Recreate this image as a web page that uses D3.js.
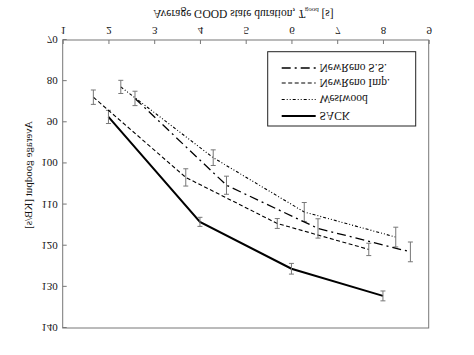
<!DOCTYPE html>
<meta charset="utf-8">
<style>
  body { margin: 0; background: #fff; }
  svg { display: block; transform: scaleY(-1); }
  text { font-family: "Liberation Serif", "DejaVu Serif", serif; fill: #111; }
</style>
<script src="https://d3js.org/d3.v7.min.js"></script>
<div id="chart"></div>
<script>
  // values (x = average GOOD duration, y = goodput)
  var sackX = [2, 4, 6, 8];
  var sackY = [88.7, 114.2, 125.6, 132.2];
  var sackErr = [1.6, 1.1, 1.3, 1.2];

  var nriX = [1.67, 3.69, 5.69, 7.69];
  var nriY = [83.9, 103.4, 114.6, 120.9];
  var nriErr = [1.75, 2.1, 1.2, 1.5];

  var wwX = [2.27, 4.29, 6.28, 8.28];
  var wwY = [81.4, 98.6, 111.8, 117.9];
  var wwErr = [1.6, 1.9, 2.3, 2.4];

  var nrssX = [2.58, 4.58, 6.58, 8.6];
  var nrssY = [84.2, 105.3, 115.8, 121.5];
  var nrssErr = [1.75, 2.2, 2.35, 2.4];

  var xTicks = [1, 2, 3, 4, 5, 6, 7, 8, 9];
  var yTicks = [70, 80, 90, 100, 110, 120, 130, 140];

  var width = 474, height = 355;
  var margin = {top: 27, right: 45.3, bottom: 40, left: 62.7};

  var svg = d3.select("#chart").append("svg")
    .attr("width", width)
    .attr("height", height);

  var x = d3.scaleLinear().domain([1, 9]).range([margin.left, width - margin.right]);
  var y = d3.scaleLinear().domain([70, 140]).range([height - margin.bottom, margin.top]);

  // frame
  svg.append("rect")
    .attr("x", x(1)).attr("y", y(140))
    .attr("width", x(9) - x(1)).attr("height", y(70) - y(140))
    .attr("fill", "none").attr("stroke", "#777").attr("stroke-width", 1);

  var xAxis = svg.append("g")
    .attr("transform", "translate(0," + y(70) + ")")
    .call(d3.axisBottom(x).tickValues(xTicks).tickFormat(d3.format("d"))
      .tickSizeInner(-4).tickSizeOuter(0).tickPadding(5));
  var yAxis = svg.append("g")
    .attr("transform", "translate(" + x(1) + ",0)")
    .call(d3.axisLeft(y).tickValues(yTicks).tickFormat(d3.format("d"))
      .tickSizeInner(-4).tickSizeOuter(0).tickPadding(5));
  [xAxis, yAxis].forEach(function(a) {
    a.select(".domain").remove();
    a.selectAll("line").attr("stroke", "#777");
    a.selectAll("text").style("font-size", "11px").style("font-family", "Liberation Serif").attr("fill", "#111");
  });

  // axis titles
  var xt = svg.append("text")
    .attr("x", 243.4).attr("y", 345)
    .attr("text-anchor", "middle")
    .style("font-size", "11.5px");
  xt.append("tspan").text("Average GOOD state duration, ");
  xt.append("tspan").style("font-style", "italic").text("T");
  xt.append("tspan").attr("dy", 2.5).style("font-size", "7px").text("good");
  xt.append("tspan").attr("dy", -2.5).text(" [s]");

  svg.append("text")
    .attr("transform", "translate(32,180) rotate(-90)")
    .attr("text-anchor", "middle")
    .style("font-size", "11px")
    .text("Average goodput [KB/s]");

  var series = [
    {name: "SACK", xs: sackX, ys: sackY, err: sackErr, dash: null, w: 2},
    {name: "Westwood", xs: wwX, ys: wwY, err: wwErr, dash: "3,2,1,2,1,2", w: 1.1},
    {name: "NewReno Imp.", xs: nriX, ys: nriY, err: nriErr, dash: "4,2.5", w: 1.1},
    {name: "NewReno S.S.", xs: nrssX, ys: nrssY, err: nrssErr, dash: "9,4,2,4", w: 1.3}
  ];

  var line = d3.line().x(function(d) { return x(d[0]); }).y(function(d) { return y(d[1]); });

  series.forEach(function(s) {
    var pts = s.xs.map(function(v, i) { return [v, s.ys[i], s.err[i]]; });
    svg.append("path")
      .datum(pts)
      .attr("d", line)
      .attr("fill", "none")
      .attr("stroke", "#000")
      .attr("stroke-width", s.w)
      .attr("stroke-dasharray", s.dash);

    var eb = svg.append("g").attr("stroke", "#777").attr("stroke-width", 1);
    pts.forEach(function(p) {
      eb.append("line").attr("x1", x(p[0])).attr("x2", x(p[0]))
        .attr("y1", y(p[1] - p[2])).attr("y2", y(p[1] + p[2]));
      eb.append("line").attr("x1", x(p[0]) - 2.5).attr("x2", x(p[0]) + 2.5)
        .attr("y1", y(p[1] - p[2])).attr("y2", y(p[1] - p[2]));
      eb.append("line").attr("x1", x(p[0]) - 2.5).attr("x2", x(p[0]) + 2.5)
        .attr("y1", y(p[1] + p[2])).attr("y2", y(p[1] + p[2]));
    });
  });

  // legend
  var legend = svg.append("g");
  legend.append("rect")
    .attr("x", 267.7).attr("y", 229)
    .attr("width", 148).attr("height", 74.3)
    .attr("fill", "#fff").attr("stroke", "#222").attr("stroke-width", 1);
  var legY = [239, 255.5, 272, 287];
  series.forEach(function(s, i) {
    legend.append("line")
      .attr("x1", 281.7).attr("x2", 315.7)
      .attr("y1", legY[i]).attr("y2", legY[i])
      .attr("stroke", "#000").attr("stroke-width", s.w)
      .attr("stroke-dasharray", s.dash);
    legend.append("text")
      .attr("x", 319.5).attr("y", legY[i])
      .attr("dy", "0.35em")
      .style("font-size", "11.5px")
      .text(s.name);
  });
</script>
